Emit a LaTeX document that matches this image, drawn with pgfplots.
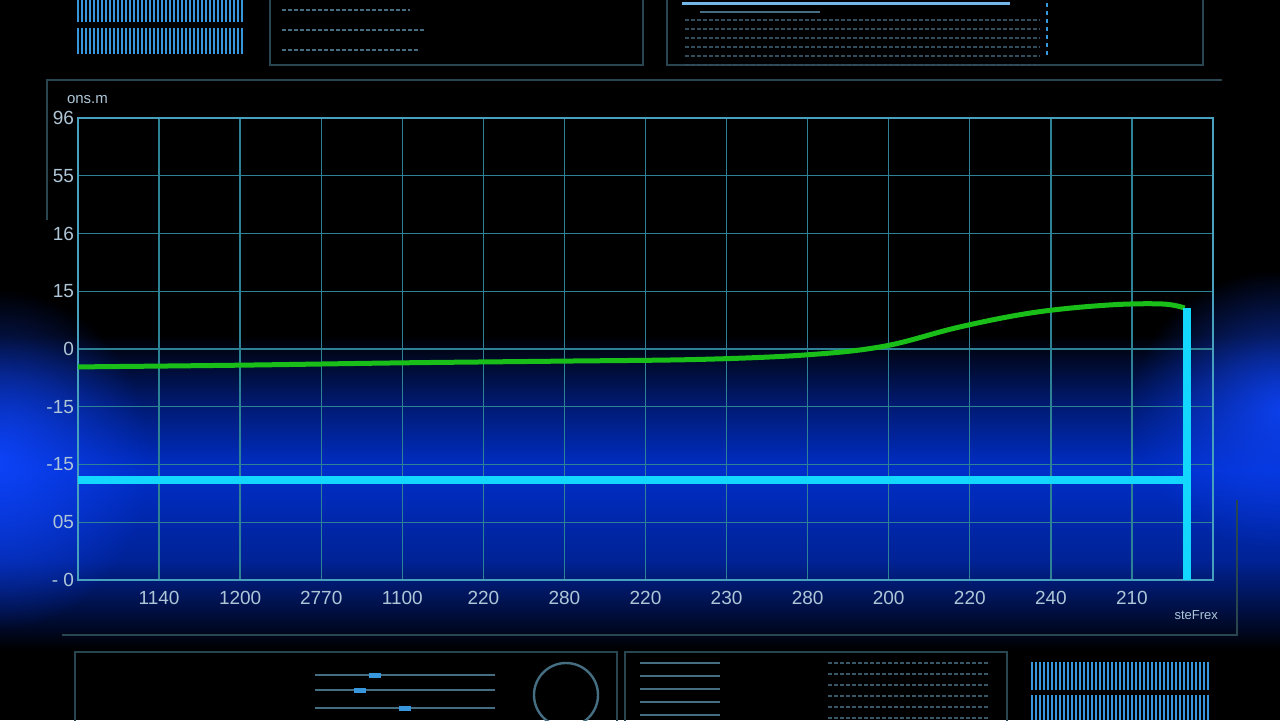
\documentclass[border=0pt]{standalone}
\usepackage{pgfplots}
\pgfplotsset{compat=1.18}
\usepackage{fontspec}
\setmainfont{Liberation Sans}
\usetikzlibrary{fadings}
\tikzfading[name=glowfade, inner color=transparent!0, outer color=transparent!100]
\definecolor{bgblue}{RGB}{0,46,200}
\definecolor{glowblue}{RGB}{15,70,255}
\definecolor{gridc}{RGB}{45,130,150}
\definecolor{framec}{RGB}{70,160,190}
\definecolor{labc}{RGB}{175,198,215}
\definecolor{greenc}{RGB}{25,190,25}
\definecolor{cyanc}{RGB}{20,215,255}
\definecolor{panelc}{RGB}{40,70,80}
\definecolor{barc}{RGB}{55,150,220}
\definecolor{txtc}{RGB}{70,110,130}
\begin{document}
\begin{tikzpicture}[x=0.5pt,y=0.5pt]
\useasboundingbox (0,0) rectangle (1280,720);
\fill[black] (0,0) rectangle (1280,720);
% blue glow band
\shade[top color=black, bottom color=bgblue, middle color=bgblue!55!black] (0,250) rectangle (1280,385);
\shade[top color=bgblue, bottom color=black, middle color=bgblue!75!black] (0,70) rectangle (1280,250.5);
\begin{scope}
\clip (0,0) rectangle (1280,720);
\fill[glowblue, opacity=0.85, path fading=glowfade] (0,260) ellipse (150 and 170);
\fill[glowblue, opacity=0.85, path fading=glowfade] (1280,310) ellipse (150 and 140);
\end{scope}
% decorative frames
\draw[panelc, line width=1pt] (47,500) -- (47,640) -- (1222,640);
\draw[panelc, line width=1pt] (62,85) -- (1237,85) -- (1237,220);
\draw[panelc, line width=0.8pt] (270,655) rectangle (643,725);
\draw[panelc, line width=0.8pt] (667,655) rectangle (1203,725);
\draw[panelc, line width=0.8pt] (75,68) rectangle (617,-5);
\draw[panelc, line width=0.8pt] (625,68) rectangle (1007,-5);
% top-left barcode
\foreach \i in {0,...,41} {
  \draw[barc, line width=1.2pt] (78+\i*4,698) -- (78+\i*4,720);
  \draw[barc, line width=1.2pt] (78+\i*4,666) -- (78+\i*4,692);
}
% bottom-right barcode
\foreach \i in {0,...,44} {
  \draw[barc, line width=1.2pt] (1032+\i*4,30) -- (1032+\i*4,58);
  \draw[barc, line width=1.2pt] (1032+\i*4,0) -- (1032+\i*4,25);
}
% panel text lines
\draw[txtc, line width=1pt, dash pattern=on 2pt off 1pt] (282,710) -- (410,710);
\draw[txtc, line width=1pt, dash pattern=on 2pt off 1pt] (282,690) -- (425,690);
\draw[txtc, line width=1pt, dash pattern=on 2pt off 1pt] (282,670) -- (418,670);
\draw[barc!70!white, line width=1.5pt] (682,717) -- (1010,717);
\draw[txtc, line width=1pt] (700,708) -- (820,708);
\foreach \k in {0,...,5} {\draw[txtc!70!black, line width=0.8pt, dash pattern=on 2pt off 1pt] (685,700-\k*9) -- (1040,700-\k*9);}
\draw[barc, line width=0.8pt, dash pattern=on 2pt off 2pt] (1047,665) -- (1047,720);
% bottom-left widgets
\foreach \yy/\kx in {45/375,30/360,12/405} {
  \draw[txtc, line width=1pt] (315,\yy) -- (495,\yy);
  \fill[barc] (\kx-6,\yy-2.5) rectangle (\kx+6,\yy+2.5);
}
\draw[txtc, line width=1.2pt] (566,25) circle (32);
\foreach \k in {0,...,4} {\draw[txtc, line width=0.8pt] (640,57-\k*13) -- (720,57-\k*13);}
\foreach \k in {0,...,5} {\draw[txtc!80!black, line width=0.8pt, dash pattern=on 2pt off 1pt] (828,57-\k*11) -- (990,57-\k*11);}
% labels around axis
\node[text=labc, font=\fontsize{7.5}{8}\selectfont, anchor=west] at (60,620) {ons.m};
\node[text=labc, font=\fontsize{6.5}{7}\selectfont, anchor=east] at (1225,105) {steFrex};
\begin{axis}[
  at={(39pt,70pt)}, anchor=south west,
  scale only axis, width=567.5pt, height=231pt,
  xmin=0, xmax=14, ymin=0, ymax=8,
  xtick={1,...,13},
  xticklabels={1140,1200,2770,1100,220,280,220,230,280,200,220,240,210},
  ytick={0,...,8},
  yticklabels={- 0,05,-15,-15,0,15,16,55,96},
  grid=major,
  major grid style={gridc, line width=0.7pt},
  axis line style={framec, line width=0.9pt},
  tick style={draw=none},
  ticklabel style={font=\fontsize{9.5}{10}\selectfont, text=labc},
  xticklabel style={yshift=-2pt},
  yticklabel style={xshift=1.5pt},
  /pgf/number format/assume math mode=true,
  clip=false,
]
\addplot[greenc, line width=2.5pt, smooth, tension=0.6] coordinates {
  (0,3.69) (2,3.72) (3.97,3.76) (5.95,3.79) (7.67,3.82) (9.0,3.90)
  (9.95,4.05) (10.87,4.38) (11.78,4.63) (12.69,4.76) (13.37,4.78) (13.65,4.71)
};
\addplot[cyanc, line width=4pt] coordinates {(0,1.73) (13.68,1.73)};
\addplot[cyanc, line width=4pt] coordinates {(13.68,0) (13.68,4.71)};
\end{axis}
\end{tikzpicture}
\end{document}
